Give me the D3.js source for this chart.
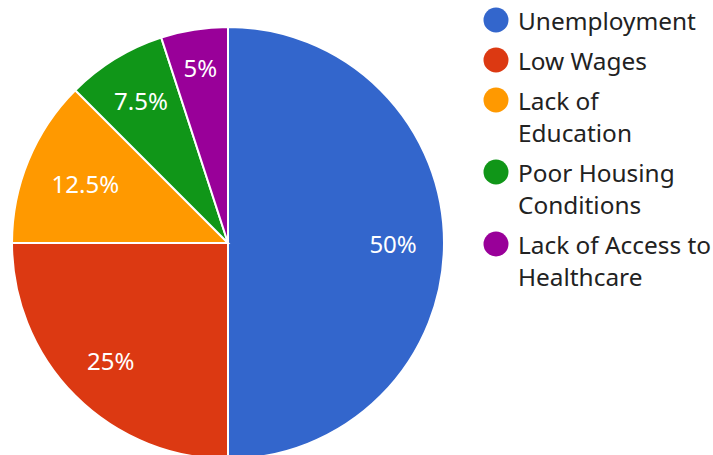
<!DOCTYPE html>
<html><head><meta charset="utf-8">
<script src="https://cdn.jsdelivr.net/npm/d3@7"></script>
<style>html,body{margin:0;padding:0;background:#fff;}svg{display:block;}</style>
</head><body>
<svg id="c" width="713" height="455"></svg>
<script>
const categories = ["Unemployment", "Low Wages", "Lack of Education", "Poor Housing Conditions", "Lack of Access to Healthcare"];
const values = [50, 25, 12.5, 7.5, 5];
const labels = ["50%", "25%", "12.5%", "7.5%", "5%"];
const legendLines = [["Unemployment"], ["Low Wages"], ["Lack of", "Education"], ["Poor Housing", "Conditions"], ["Lack of Access to", "Healthcare"]];
const colors = ["#3366cc", "#dc3912", "#ff9900", "#109618", "#990099"];

const svg = d3.select("#c");
const font = "'Noto Sans', 'Open Sans', sans-serif";
const cx = 228, cy = 243, R = 216;
const fs = 24, lfs = 24.4;
const data = categories.map((c, i) => ({cat: c, v: values[i], label: labels[i], color: colors[i]}));
const pie = d3.pie().sort(null).value(d => d.v);
const arc = d3.arc().innerRadius(0).outerRadius(R);
const g = svg.append("g").attr("transform", `translate(${cx},${cy})`);
const arcs = pie(data);
g.selectAll("path").data(arcs).enter().append("path")
  .attr("d", arc).attr("fill", d => d.data.color)
  .attr("stroke", "#fff").attr("stroke-width", 2);
// place each label so the farthest corner of its text box sits at a fixed distance from the centre
const cornerR = R * 0.875;
g.selectAll("text").data(arcs).enter().append("text")
  .attr("text-anchor", "middle").attr("dominant-baseline", "central")
  .attr("font-family", font).attr("font-size", fs).attr("fill", "#fff")
  .text(d => d.data.label)
  .each(function(d) {
    const w = this.getComputedTextLength(), h = fs * 0.72;
    const a = (d.startAngle + d.endAngle) / 2;
    const ux = Math.sin(a), uy = -Math.cos(a);
    const far = r => {
      const x = r * ux, y = r * uy;
      return Math.hypot(Math.abs(x) + w / 2, Math.abs(y) + h / 2);
    };
    let lo = 0, hi = R;
    for (let k = 0; k < 40; k++) { const m = (lo + hi) / 2; if (far(m) < cornerR) lo = m; else hi = m; }
    d3.select(this).attr("x", lo * ux).attr("y", lo * uy);
  });

const lg = svg.append("g");
let y = 20;
legendLines.forEach((lines, i) => {
  lg.append("circle").attr("cx", 496).attr("cy", y).attr("r", 12.5).attr("fill", colors[i]);
  lines.forEach((ln, j) => {
    lg.append("text").attr("x", 518).attr("y", y + j * 32)
      .attr("dominant-baseline", "central")
      .attr("font-family", font).attr("font-size", lfs).attr("fill", "#222")
      .text(ln);
  });
  y += lines.length * 32 + 8;
});
</script>
</body></html>
